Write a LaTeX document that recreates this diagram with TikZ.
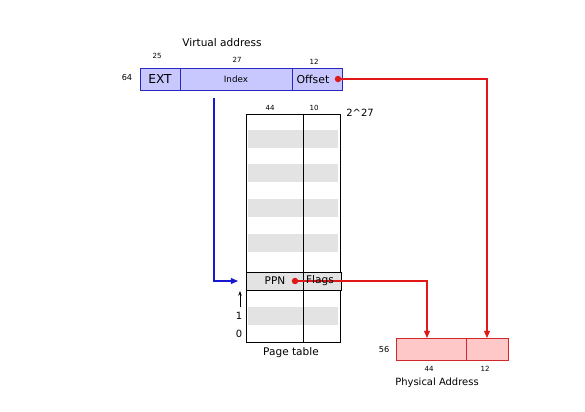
\documentclass[tikz,border=0pt]{standalone}
\usepackage{fontspec}
\setmainfont{DejaVu Sans}
\usetikzlibrary{arrows.meta}

\definecolor{vfill}{HTML}{C8C8FF}
\definecolor{vline}{HTML}{2828C0}
\definecolor{pfill}{HTML}{FFC8C8}
\definecolor{pline}{HTML}{D02828}
\definecolor{redline}{HTML}{E01818}
\definecolor{blueline}{HTML}{1818D0}

\newcommand{\fsz}[1]{\fontsize{#1}{#1}\selectfont}

\begin{document}
\begin{tikzpicture}[x=0.03cm,y=-0.03cm,
  vfield/.style={draw=vline,thick,fill=vfill,minimum height=0.66cm,inner sep=0pt,outer sep=0pt},
  pfield/.style={draw=pline,semithick,fill=pfill,minimum height=0.66cm,inner sep=0pt,outer sep=0pt},
  bits/.style={font=\fsz{6}},
  reddot/.style={circle,fill=redline,inner sep=0pt,minimum size=5.5pt},
  redarrow/.style={color=redline,line width=0.9pt,-{Triangle[length=6pt,width=5pt]}},
  stripe/.style={fill=black!11},
]
\useasboundingbox (0,0) rectangle (585,411);

% virtual address
\node[font=\fsz{9}] (vatitle) at (222,43) {Virtual address};
\node[vfield,minimum width=1.2cm] (ext) at (160,79) {};
\node[vfield,minimum width=3.36cm] (index) at (236,79) {};
\node[vfield,minimum width=1.5cm] (offset) at (317,79) {};
\node[font=\fsz{10.5}] (extlbl) at (ext) {EXT};
\node[font=\fsz{7.5}] (idxlbl) at (index) {Index};
\node[font=\fsz{9.3}] (offlbl) at (313,79) {Offset};
\node[font=\fsz{7}] (w64) at (127,78) {64};
\node[bits] (w25) at (157,56) {25};
\node[bits] (w27) at (237,60) {27};
\node[bits] (w12) at (314,62) {12};

% page table
\foreach \y in {130,164,199,234,307}
  \fill[stripe] (248,\y) rectangle (338,\y+18);
\node[draw,semithick,minimum width=2.82cm,minimum height=6.84cm,inner sep=0pt,outer sep=0pt] (pt) at (293,228) {};
\node[draw,semithick,fill=black!11,minimum width=1.71cm,minimum height=0.54cm,inner sep=0pt,outer sep=0pt] (ppn) at (274.5,281) {};
\node[draw,semithick,fill=black!11,minimum width=1.14cm,minimum height=0.54cm,inner sep=0pt,outer sep=0pt] (flags) at (322,281) {};
\draw[semithick] (303,114) -- (303,342);
\node[bits] (w44) at (270,108) {44};
\node[bits] (w10) at (314,108) {10};
\node[font=\fsz{8.5}] (rows) at (360,113) {2\^{}27};
\node[font=\fsz{8.5}] (one) at (239,316) {1};
\node[font=\fsz{8.5}] (zero) at (239,334) {0};
\node[font=\fsz{9}] (ptlbl) at (291,353) {Page table};
\coordinate (up0) at (240,307);
\coordinate (up1) at (240,291);
\draw[semithick,-{Stealth[length=4pt,width=3pt]}] (up0) -- (up1);

% physical address
\node[pfield,minimum width=2.1cm] (pa44) at (431,349) {};
\node[pfield,minimum width=1.26cm] (pa12) at (487,349) {};
\node[font=\fsz{7}] (w56) at (384,350) {56};
\node[bits] (w44b) at (429,369) {44};
\node[bits] (w12b) at (485,369) {12};
\node[font=\fsz{8.5}] (palbl) at (437,383) {Physical Address};

% connectors
\node[reddot] (offdot) at (338,79) {};
\node[reddot] (ppndot) at (295,281) {};
\coordinate (idxout) at (214,98);
\draw[color=blueline,line width=0.9pt,-{Triangle[length=6pt,width=5pt]},shorten >=0.24cm] (idxout) |- (ppn.west);
\draw[redarrow] (offdot.center) -| (pa12.north);
\draw[redarrow] (ppndot.center) -| ([xshift=-0.12cm]pa44.north);
\node[font=\fsz{9}] (ppnlbl) at (275,281) {PPN};
\node[font=\fsz{9}] (flagslbl) at (320,281) {Flags};
\end{tikzpicture}
\end{document}
